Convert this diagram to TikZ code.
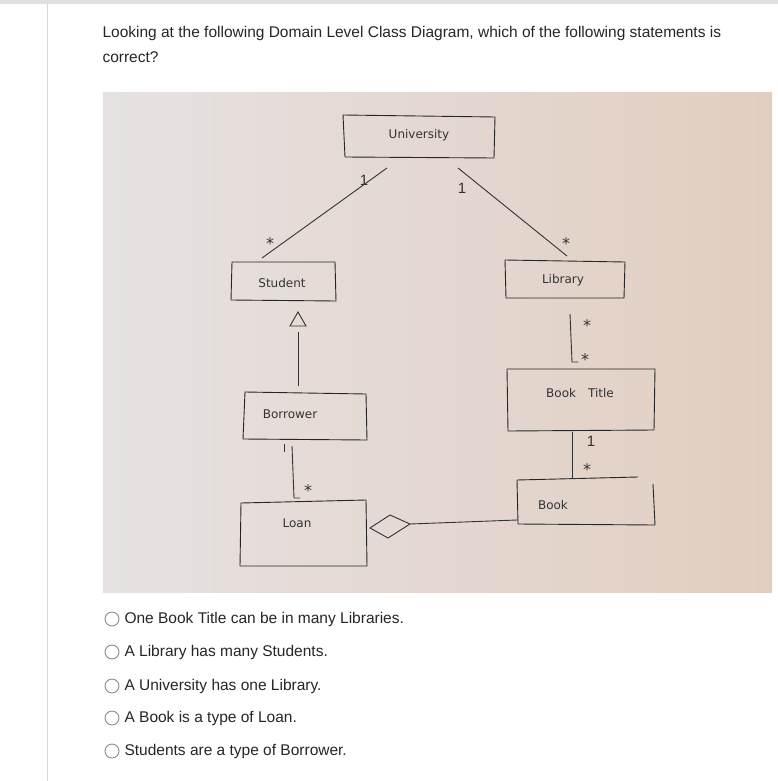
\documentclass[tikz,border=0pt]{standalone}
\usepackage{fontspec}
\setmainfont{Liberation Sans}
\newfontfamily\hand{DejaVu Sans}
\begin{document}
\begin{tikzpicture}[x=1pt,y=-1pt,
  box/.style={draw=black!85,line width=0.9pt,fill=none},
  hl/.style={draw=black!80,line width=0.9pt},
  lab/.style={font=\hand\fontsize{12}{14}\selectfont,text=black!80},
  mult/.style={font=\fontsize{15}{16}\selectfont,text=black!80},
  star/.style={font=\hand\fontsize{16}{16}\selectfont,text=black!80},
  q/.style={font=\fontsize{15.5}{18}\selectfont,text=black!85,anchor=west},
  radio/.style={draw=black!45,line width=0.9pt,circle,minimum size=14pt,inner sep=0pt}]
\useasboundingbox (0,0) rectangle (778,781);
\fill[white] (0,0) rectangle (778,781);
\fill[black!12] (0,0) rectangle (778,4);
\draw[black!15] (47,4) -- (47,781);
\node[q] (q1) at (99,33) {Looking at the following Domain Level Class Diagram, which of the following statements is};
\node[q] (q2) at (99,57) {correct?};
% photo
\shade[left color={rgb,255:red,230;green,226;blue,226},right color={rgb,255:red,226;green,206;blue,192}] (103,93) rectangle (772,592);
% boxes
\draw[box] (343,115) -- (495,117) -- (494,158) -- (345,157) -- cycle;
\node[lab] (uni) at (419,135) {University};
\draw[box] (232,262) -- (335,262) -- (336,301) -- (231,300) -- cycle;
\node[lab] (stu) at (282,283) {Student};
\draw[box] (505,260) -- (625,262) -- (624,298) -- (506,298) -- cycle;
\node[lab] (lib) at (563,280) {Library};
\draw[box] (245,392) -- (366,394) -- (367,440) -- (243,439) -- cycle;
\node[lab] (bor) at (290,414) {Borrower};
\draw[box] (507,369) -- (655,369) -- (654,430) -- (508,431) -- cycle;
\node[lab] (bt) at (580,393) {Book\quad Title};
\draw[box] (241,503) -- (366,500) -- (367,566) -- (240,566) -- cycle;
\node[lab] (loan) at (297,523) {Loan};
\draw[box] (517,480) -- (638,477);
\draw[box] (653,484) -- (655,525) -- (518,524) -- (517,480);
\node[lab] (book) at (553,505) {Book};
% connectors
\coordinate (u1) at (387,168); \coordinate (s1) at (262,258);
\coordinate (u2) at (458,168); \coordinate (l1) at (567,256);
\draw[hl] (u1) -- (s1);
\draw[hl] (u2) -- (l1);
\node[mult] (m1) at (364,180) {1};
\node[star] (m2) at (270,244) {*};
\node[mult] (m3) at (462,188) {1};
\node[star] (m4) at (566,244) {*};
% generalization
\draw[hl] (298,312) -- (290,326) -- (306,326) -- cycle;
\draw[hl] (298,332) -- (298,386);
% library - book title
\draw[hl] (570,314) -- (572,362) -- (578,362);
\node[star] (m5) at (587,326) {*};
\node[star] (m6) at (585,360) {*};
% book title - book
\draw[hl] (572,432) -- (572,478) -- (580,478);
\node[mult] (m7) at (591,441) {1};
\node[star] (m8) at (587,470) {*};
% borrower - loan
\draw[hl] (284,444) -- (284,452);
\draw[hl] (292,446) -- (294,498) -- (300,498);
\node[star] (m9) at (308,491) {*};
% loan - book aggregation
\draw[hl] (370,528) -- (390,515) -- (410,524) -- (388,538) -- cycle;
\draw[hl] (410,524) -- (517,520);
% options
\foreach \y/\t in {619/One Book Title can be in many Libraries.,652/A Library has many Students.,686/A University has one Library.,718/A Book is a type of Loan.,751/Students are a type of Borrower.}{
  \node[radio] at (112,\y) {};
  \node[q] at (121,\y) {\t};
}
\end{tikzpicture}
\end{document}
